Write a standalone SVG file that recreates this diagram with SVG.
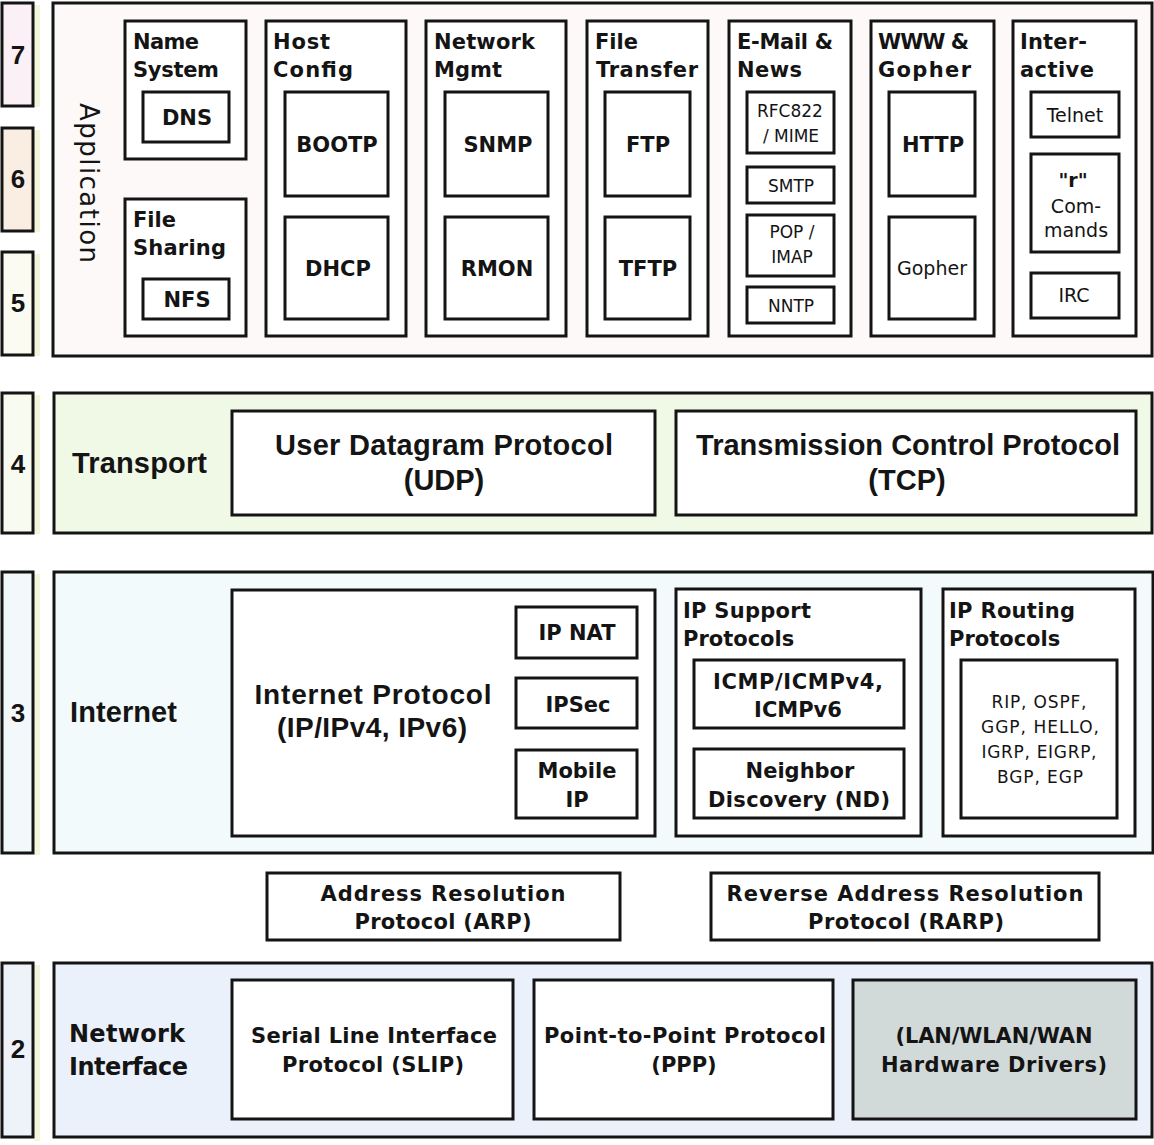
<svg xmlns="http://www.w3.org/2000/svg" width="1154" height="1145" viewBox="0 0 1154 1145">
<style>
rect{stroke:#141414;stroke-width:3}
rect.bg{stroke:none}
.w{fill:#ffffff}
text{fill:#141414}
.v{font-family:"DejaVu Sans",Verdana,sans-serif;font-weight:bold}
.vr{font-family:"DejaVu Sans",Verdana,sans-serif}
.a{font-family:"Liberation Sans",Arial,sans-serif;font-weight:bold}
.m{text-anchor:middle}
.t21{font-size:21px}
.t17{font-size:17px}
.t19{font-size:19px}
.big{font-size:29px}
.num{font-size:26px}
</style>
<rect class="bg" width="1154" height="1145" fill="#ffffff"/>

<g id="glow">
<rect class="bg" x="34" y="5" width="6" height="102" fill="#f4f6dc"/>
<rect class="bg" x="34" y="130" width="6" height="102" fill="#f4f6dc"/>
<rect class="bg" x="34" y="254" width="6" height="102" fill="#f4f6dc"/>
<rect class="bg" x="34" y="395" width="6" height="139" fill="#f4f6dc"/>
<rect class="bg" x="34" y="574" width="6" height="281" fill="#f4f6dc"/>
<rect class="bg" x="34" y="965" width="6" height="176" fill="#f4f6dc"/>
</g>

<g id="layer-numbers">
<g id="n7"><rect x="2" y="3" width="31" height="103" fill="#fbf0f5"/><text class="a num m" x="18" y="64">7</text></g>
<g id="n6"><rect x="2" y="128" width="31" height="103" fill="#faeee2"/><text class="a num m" x="18" y="188">6</text></g>
<g id="n5"><rect x="2" y="252" width="31" height="103" fill="#fbfbf1"/><text class="a num m" x="18" y="312">5</text></g>
<g id="n4"><rect x="2" y="393" width="31" height="140" fill="#f7fbf0"/><text class="a num m" x="18" y="473">4</text></g>
<g id="n3"><rect x="2" y="572" width="31" height="281" fill="#f3f9fb"/><text class="a num m" x="18" y="722">3</text></g>
<g id="n2"><rect x="2" y="963" width="31" height="174" fill="#eef3fa"/><text class="a num m" x="18" y="1058">2</text></g>
</g>

<g id="application">
<rect x="53" y="3" width="1099" height="353" fill="#fdf9f8"/>
<text class="vr" font-size="26" transform="translate(80,183) rotate(90)" text-anchor="middle" textLength="160">Application</text>
</g>

<g id="name-system">
<rect x="125" y="21" width="121" height="138" class="w"/>
<text class="v t21" x="133" y="49" textLength="66">Name</text>
<text class="v t21" x="133" y="77" textLength="86">System</text>
<rect x="143" y="92" width="86" height="50" class="w"/>
<text class="v t21 m" x="187" y="125">DNS</text>
</g>
<g id="file-sharing">
<rect x="125" y="199" width="121" height="137" class="w"/>
<text class="v t21" x="133" y="227" textLength="43">File</text>
<text class="v t21" x="133" y="255" textLength="93">Sharing</text>
<rect x="143" y="279" width="86" height="40" class="w"/>
<text class="v t21 m" x="187" y="307">NFS</text>
</g>
<g id="host-config">
<rect x="266" y="21" width="140" height="315" class="w"/>
<text class="v t21" x="273" y="49" textLength="57">Host</text>
<text class="v t21" x="273" y="77" textLength="80">Config</text>
<rect x="285" y="92" width="103" height="104" class="w"/>
<text class="v t21 m" x="337" y="152">BOOTP</text>
<rect x="285" y="217" width="103" height="102" class="w"/>
<text class="v t21 m" x="338" y="276">DHCP</text>
</g>
<g id="network-mgmt">
<rect x="426" y="21" width="140" height="315" class="w"/>
<text class="v t21" x="434" y="49" textLength="101">Network</text>
<text class="v t21" x="434" y="77" textLength="68">Mgmt</text>
<rect x="445" y="92" width="103" height="104" class="w"/>
<text class="v t21 m" x="498" y="152">SNMP</text>
<rect x="445" y="217" width="103" height="102" class="w"/>
<text class="v t21 m" x="497" y="276">RMON</text>
</g>
<g id="file-transfer">
<rect x="587" y="21" width="121" height="315" class="w"/>
<text class="v t21" x="595" y="49" textLength="43">File</text>
<text class="v t21" x="596" y="77" textLength="102">Transfer</text>
<rect x="605" y="92" width="85" height="104" class="w"/>
<text class="v t21 m" x="648" y="152">FTP</text>
<rect x="605" y="217" width="85" height="102" class="w"/>
<text class="v t21 m" x="648" y="276">TFTP</text>
</g>
<g id="email-news">
<rect x="729" y="21" width="122" height="315" class="w"/>
<text class="v t21" x="737" y="49" textLength="96">E-Mail &amp;</text>
<text class="v t21" x="737" y="77" textLength="65">News</text>
<rect x="747" y="92" width="87" height="61" class="w"/>
<text class="vr t17 m" x="790" y="117">RFC822</text>
<text class="vr t17 m" x="791" y="142">/ MIME</text>
<rect x="747" y="167" width="87" height="36" class="w"/>
<text class="vr t17 m" x="791" y="192">SMTP</text>
<rect x="747" y="215" width="87" height="61" class="w"/>
<text class="vr t17 m" x="792" y="238">POP /</text>
<text class="vr t17 m" x="792" y="263">IMAP</text>
<rect x="747" y="287" width="87" height="36" class="w"/>
<text class="vr t17 m" x="791" y="312">NNTP</text>
</g>
<g id="www-gopher">
<rect x="871" y="21" width="123" height="315" class="w"/>
<text class="v t21" x="878" y="49" textLength="91">WWW &amp;</text>
<text class="v t21" x="878" y="77" textLength="93">Gopher</text>
<rect x="889" y="92" width="86" height="104" class="w"/>
<text class="v t21 m" x="933" y="152">HTTP</text>
<rect x="889" y="217" width="86" height="102" class="w"/>
<text class="vr t19 m" x="932" y="275">Gopher</text>
</g>
<g id="interactive">
<rect x="1013" y="21" width="123" height="315" class="w"/>
<text class="v t21" x="1020" y="49" textLength="67">Inter-</text>
<text class="v t21" x="1020" y="77" textLength="74">active</text>
<rect x="1031" y="92" width="88" height="45" class="w"/>
<text class="vr t19 m" x="1075" y="122">Telnet</text>
<rect x="1031" y="154" width="88" height="98" class="w"/>
<text class="v t19 m" x="1073" y="187">"r"</text>
<text class="vr t19 m" x="1076" y="213">Com-</text>
<text class="vr t19 m" x="1076" y="237">mands</text>
<rect x="1031" y="273" width="88" height="45" class="w"/>
<text class="vr t19 m" x="1074" y="302">IRC</text>
</g>

<g id="transport">
<rect x="54" y="393" width="1098" height="140" fill="#f0f8e6"/>
<text class="a big" x="72" y="473" textLength="135">Transport</text>
</g>
<g id="udp">
<rect x="232" y="411" width="423" height="104" class="w"/>
<text class="a big m" x="444" y="455" textLength="338">User Datagram Protocol</text>
<text class="a big m" x="444" y="490">(UDP)</text>
</g>
<g id="tcp">
<rect x="676" y="411" width="460" height="104" class="w"/>
<text class="a big m" x="908" y="455" textLength="424">Transmission Control Protocol</text>
<text class="a big m" x="907" y="490">(TCP)</text>
</g>

<g id="internet">
<rect x="54" y="572" width="1099" height="281" fill="#f2fafb"/>
<text class="a big" x="70" y="722" textLength="107">Internet</text>
</g>
<g id="ip">
<rect x="232" y="590" width="423" height="246" class="w"/>
<text class="a m" font-size="28" x="373" y="704" textLength="237">Internet Protocol</text>
<text class="a m" font-size="28" x="372" y="737" textLength="190">(IP/IPv4, IPv6)</text>
<rect x="516" y="607" width="121" height="51" class="w"/>
<text class="v t21 m" x="577" y="640">IP NAT</text>
<rect x="516" y="678" width="121" height="50" class="w"/>
<text class="v t21 m" x="578" y="712">IPSec</text>
<rect x="516" y="750" width="121" height="68" class="w"/>
<text class="v t21 m" x="577" y="778">Mobile</text>
<text class="v t21 m" x="577" y="807">IP</text>
</g>
<g id="ip-support">
<rect x="676" y="589" width="245" height="247" class="w"/>
<text class="v t21" x="683" y="618" textLength="128">IP Support</text>
<text class="v t21" x="683" y="646">Protocols</text>
<rect x="694" y="660" width="210" height="68" class="w"/>
<text class="v t21 m" x="798" y="689" textLength="170">ICMP/ICMPv4,</text>
<text class="v t21 m" x="798" y="717">ICMPv6</text>
<rect x="694" y="749" width="210" height="69" class="w"/>
<text class="v t21 m" x="800" y="778">Neighbor</text>
<text class="v t21 m" x="799" y="807" textLength="182">Discovery (ND)</text>
</g>
<g id="ip-routing">
<rect x="943" y="589" width="192" height="247" class="w"/>
<text class="v t21" x="949" y="618" textLength="126">IP Routing</text>
<text class="v t21" x="949" y="646">Protocols</text>
<rect x="961" y="660" width="156" height="158" class="w"/>
<text class="vr t17 m" x="1039" y="708" textLength="95">RIP, OSPF,</text>
<text class="vr t17 m" x="1040" y="733" textLength="118">GGP, HELLO,</text>
<text class="vr t17 m" x="1039" y="758" textLength="115">IGRP, EIGRP,</text>
<text class="vr t17 m" x="1040" y="783" textLength="86">BGP, EGP</text>
</g>

<g id="arp">
<rect x="267" y="873" width="353" height="67" class="w"/>
<text class="v t21 m" x="443" y="901" textLength="245">Address Resolution</text>
<text class="v t21 m" x="443" y="929" textLength="177">Protocol (ARP)</text>
</g>
<g id="rarp">
<rect x="711" y="873" width="388" height="67" class="w"/>
<text class="v t21 m" x="905" y="901" textLength="357">Reverse Address Resolution</text>
<text class="v t21 m" x="906" y="929" textLength="196">Protocol (RARP)</text>
</g>

<g id="network-interface">
<rect x="54" y="963" width="1098" height="174" fill="#ebf1fa"/>
<text class="v" font-size="24" x="69" y="1042" textLength="116">Network</text>
<text class="v" font-size="24" x="69" y="1075" textLength="119">Interface</text>
</g>
<g id="slip">
<rect x="232" y="980" width="281" height="139" class="w"/>
<text class="v t21 m" x="374" y="1043" textLength="246">Serial Line Interface</text>
<text class="v t21 m" x="373" y="1072" textLength="182">Protocol (SLIP)</text>
</g>
<g id="ppp">
<rect x="534" y="980" width="299" height="139" class="w"/>
<text class="v t21 m" x="685" y="1043" textLength="282">Point-to-Point Protocol</text>
<text class="v t21 m" x="684" y="1072">(PPP)</text>
</g>
<g id="hardware">
<rect x="853" y="980" width="283" height="139" fill="#d2d9d9"/>
<text class="v t21 m" x="994" y="1043" textLength="197">(LAN/WLAN/WAN</text>
<text class="v t21 m" x="994" y="1072" textLength="226">Hardware Drivers)</text>
</g>

<g id="connectors"></g>
</svg>
